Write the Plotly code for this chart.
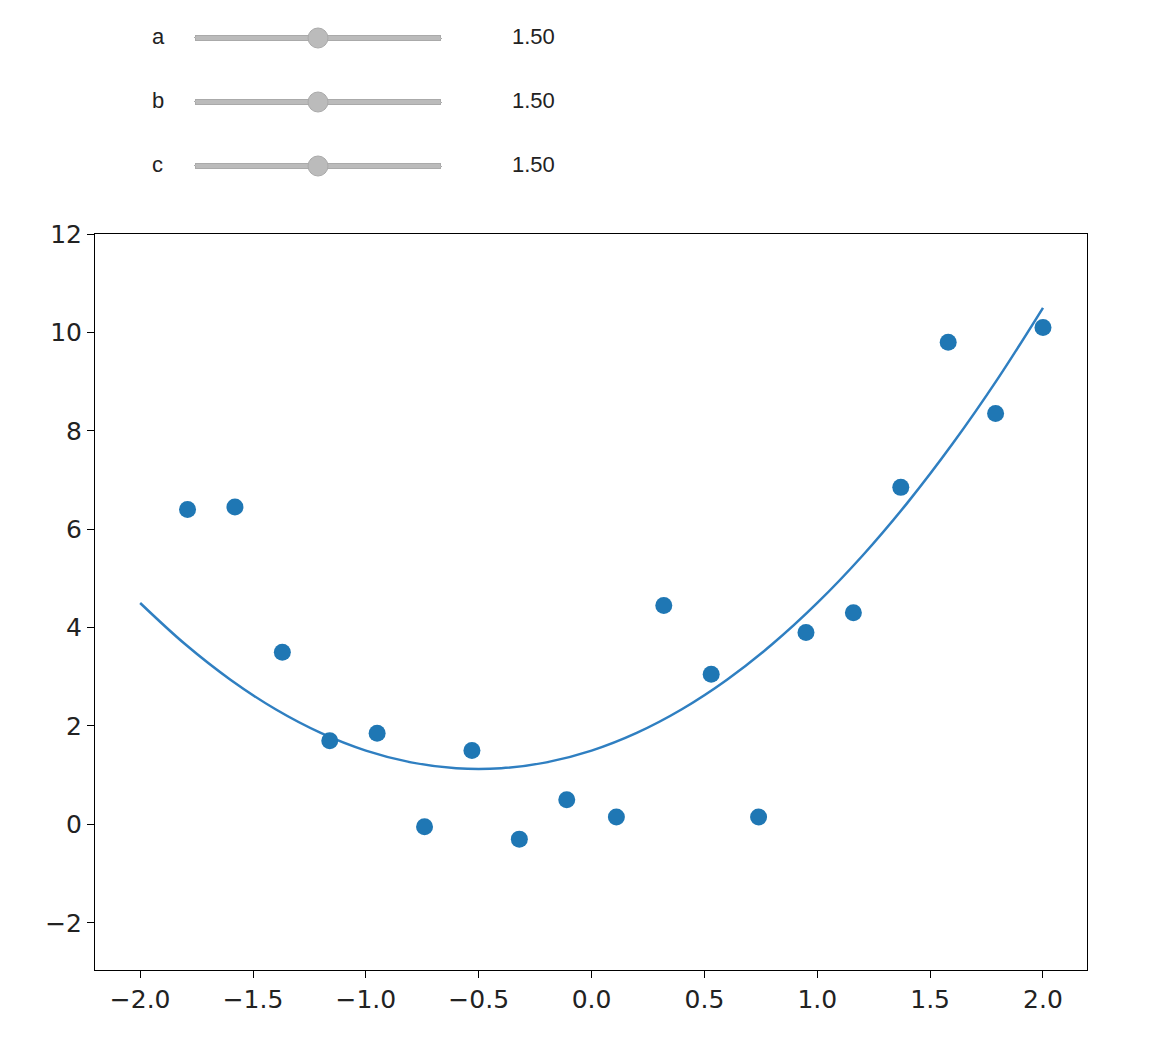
import plotly.graph_objects as go

# scatter data
pts_x = [-1.79, -1.58, -1.37, -1.16, -0.95, -0.74, -0.53, -0.32, -0.11, 0.11,
         0.32, 0.53, 0.74, 0.95, 1.16, 1.37, 1.58, 1.79, 2.0]
pts_y = [6.4, 6.45, 3.5, 1.7, 1.85, -0.05, 1.5, -0.3, 0.5, 0.15,
         4.45, 3.05, 0.15, 3.9, 4.3, 6.85, 9.8, 8.35, 10.1]

# fitted curve
curve_x = [-2.0, -1.8, -1.6, -1.4, -1.2, -1.0, -0.8, -0.6, -0.4, -0.2, 0.0,
           0.2, 0.4, 0.6, 0.8, 1.0, 1.2, 1.4, 1.6, 1.8, 2.0]
curve_y = [4.5, 3.66, 2.94, 2.34, 1.86, 1.5, 1.26, 1.14, 1.14, 1.26, 1.5,
           1.86, 2.34, 2.94, 3.66, 4.5, 5.46, 6.54, 7.74, 9.06, 10.5]

slider_names = ["a", "b", "c"]
slider_values = [1.5, 1.5, 1.5]
slider_steps = [0.0, 0.5, 1.0, 1.5, 2.0, 2.5, 3.0]

fig = go.Figure()
fig.add_trace(go.Scatter(x=curve_x, y=curve_y, mode="lines", line_shape="spline",
                         line=dict(color="#2f7fc1", width=2.5), hoverinfo="skip"))
fig.add_trace(go.Scatter(x=pts_x, y=pts_y, mode="markers",
                         marker=dict(color="#1f77b4", size=17)))

W, H = 1150, 1054
ml, mr, mt, mb = 87, 71, 226, 92
ph = H - mt - mb
pw = W - ml - mr

def py(pix):
    return (H - mb - pix) / ph

def px_(pix):
    return (pix - ml) / pw

sliders = []
annotations = []
for i, (name, val) in enumerate(zip(slider_names, slider_values)):
    ypix = 37 + 64 * i
    sliders.append(dict(
        active=slider_steps.index(val),
        x=px_(179), len=(441 - 179) / pw, y=py(ypix - 17), yanchor="top",
        pad=dict(t=0, b=0, l=0, r=0),
        currentvalue=dict(visible=False),
        ticklen=0, minorticklen=0, font=dict(size=1, color="rgba(0,0,0,0)"),
        bgcolor="#bbbbbb", bordercolor="#aaaaaa", activebgcolor="#ffffff",
        steps=[dict(label=f"{s:.2f}", method="skip", args=[]) for s in slider_steps],
    ))
    annotations.append(dict(text=name, x=px_(142), y=py(ypix - 23), xref="paper", yref="paper",
                            showarrow=False, font=dict(size=22, color="#222", family="Liberation Sans")))
    annotations.append(dict(text=f"{val:.2f}", x=px_(525), y=py(ypix - 23), xref="paper", yref="paper",
                            showarrow=False, font=dict(size=22, color="#222", family="Liberation Sans")))

axis_common = dict(showgrid=False, zeroline=False, showline=True, linecolor="black",
                   mirror=True, ticks="outside", ticklen=7, tickcolor="black",
                   tickfont=dict(size=25, color="#222", family="DejaVu Sans"))

fig.update_layout(
    width=W, height=H, margin=dict(l=ml, r=mr, t=mt, b=mb),
    plot_bgcolor="white", paper_bgcolor="white", showlegend=False,
    xaxis=dict(range=[-2.2, 2.195], tickvals=[-2, -1.5, -1, -0.5, 0, 0.5, 1, 1.5, 2],
               ticktext=["−2.0", "−1.5", "−1.0", "−0.5", "0.0", "0.5", "1.0", "1.5", "2.0"],
               **axis_common),
    yaxis=dict(range=[-2.96, 12.0], tickvals=[-2, 0, 2, 4, 6, 8, 10, 12],
               ticktext=["−2", "0", "2", "4", "6", "8", "10", "12"], **axis_common),
    sliders=sliders, annotations=annotations,
)

fig.write_html("out.html")
